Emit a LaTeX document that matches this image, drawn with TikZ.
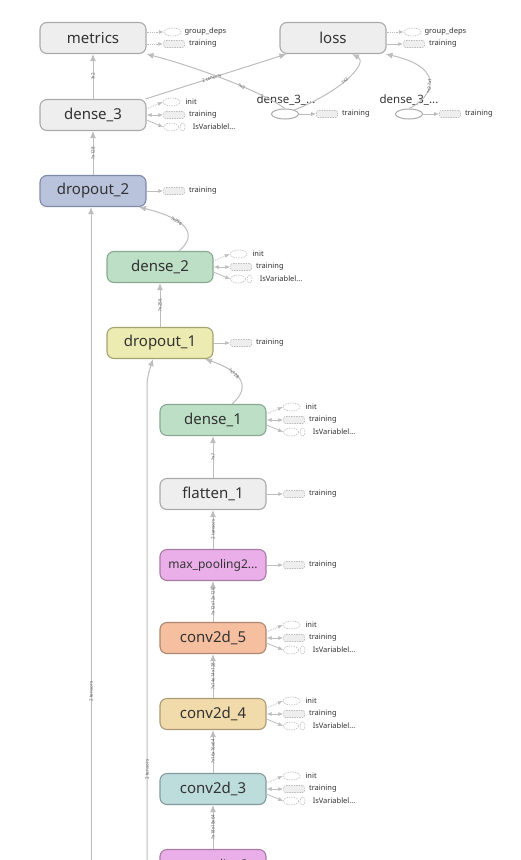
\documentclass[tikz,border=0pt]{standalone}
\usepackage{fontspec}
\setmainfont{Noto Sans}
\usetikzlibrary{arrows.meta,shapes.geometric}
\definecolor{edgec}{HTML}{BDBDBD}
\definecolor{txtc}{HTML}{333333}
\definecolor{elabc}{HTML}{555555}
\definecolor{grayf}{HTML}{EEEEEE}
\definecolor{grayd}{HTML}{AAAAAA}
\definecolor{bluef}{HTML}{B9C3DC}
\definecolor{blued}{HTML}{7E8AA8}
\definecolor{greenf}{HTML}{BDDFC6}
\definecolor{greend}{HTML}{89A892}
\definecolor{yelf}{HTML}{ECEBB1}
\definecolor{yeld}{HTML}{A5A36D}
\definecolor{pinkf}{HTML}{EAAEE8}
\definecolor{pinkd}{HTML}{A87AA6}
\definecolor{salf}{HTML}{F6BFA0}
\definecolor{sald}{HTML}{AD8770}
\definecolor{tanf}{HTML}{F1DBAA}
\definecolor{tand}{HTML}{AA9A77}
\definecolor{tealf}{HTML}{BDDCDC}
\definecolor{teald}{HTML}{859B9B}
\tikzset{
 op/.style={rectangle, rounded corners=7pt, minimum width=106pt, minimum height=31pt,
   line width=1.1pt, font=\fontsize{15}{15}\selectfont, text=txtc, inner sep=0pt},
 gop/.style={op, fill=grayf, draw=grayd},
 bop/.style={op, fill=bluef, draw=blued},
 grop/.style={op, fill=greenf, draw=greend},
 yop/.style={op, fill=yelf, draw=yeld},
 pop/.style={op, fill=pinkf, draw=pinkd, font=\fontsize{12}{12}\selectfont},
 sop/.style={op, fill=salf, draw=sald},
 tanop/.style={op, fill=tanf, draw=tand},
 top/.style={op, fill=tealf, draw=teald},
 edge/.style={draw=edgec, line width=1pt, -{Latex[length=7pt,width=6pt]}},
 elab/.style={font=\fontsize{4.5}{4.5}\selectfont, text=elabc, inner sep=0.3pt},
 sm/.style={font=\fontsize{7.5}{7.5}\selectfont, text=txtc, anchor=west, inner sep=0pt},
 initell/.style={ellipse, draw=edgec, dash pattern=on 1.5pt off 1pt, fill=white,
   minimum width=17pt, minimum height=8pt, inner sep=0pt, line width=0.6pt},
 trrect/.style={rectangle, rounded corners=2pt, draw=edgec, dash pattern=on 1.5pt off 1pt,
   fill=grayf, minimum width=21pt, minimum height=7pt, inner sep=0pt, line width=0.6pt},
 inell/.style={ellipse, draw=grayd, fill=white, minimum width=27pt, minimum height=10pt,
   inner sep=0pt, line width=1pt},
 sarr/.style={draw=edgec, line width=0.8pt, -{Latex[length=5pt,width=4pt]}},
 darr/.style={sarr, densely dotted},
 barr/.style={sarr, {Latex[length=5pt,width=4pt]}-{Latex[length=5pt,width=4pt]}},
}
\newcommand\varann[1]{%
 \node[initell] (#1-i) at ([xshift=25pt,yshift=13pt]#1.east) {};
 \node[sm] at ([xshift=5pt]#1-i.east) {init};
 \node[trrect] (#1-t) at ([xshift=27.5pt]#1.east) {};
 \node[sm] at ([xshift=4pt]#1-t.east) {training};
 \node[initell, minimum width=15pt] (#1-v) at ([xshift=24.5pt,yshift=-12pt]#1.east) {};
 \node[initell, minimum width=5pt, minimum height=8pt] (#1-vv) at ([xshift=36pt,yshift=-12pt]#1.east) {};
 \node[sm] at ([xshift=46pt,yshift=-12pt]#1.east) {IsVariablel...};
 \draw[darr] ([yshift=6pt]#1.east) -- (#1-i.west);
 \draw[barr] (#1.east) -- (#1-t.west);
 \draw[sarr] ([yshift=-5pt]#1.east) -- (#1-v.west);
}
\newcommand\trann[2]{%
 \node[trrect] (#1-t) at ([xshift=27.5pt]#1.east) {};
 \node[sm] at ([xshift=4pt]#1-t.east) {training};
 \draw[#2] (#1.east) -- (#1-t.west);
}
\newcommand\gdann[2]{%
 \node[initell] (#1-g) at ([xshift=26pt,yshift=6pt]#1.east) {};
 \node[sm] at ([xshift=3pt]#1-g.east) {group\_deps};
 \node[trrect] (#1-t) at ([xshift=27.5pt,yshift=-6pt]#1.east) {};
 \node[sm] at ([xshift=4pt]#1-t.east) {training};
 \draw[darr] ([yshift=6pt]#1.east) -- (#1-g.west);
 \draw[#2] ([yshift=-6pt]#1.east) -- (#1-t.west);
}
\begin{document}
\begin{tikzpicture}[x=1pt,y=-1pt]
\useasboundingbox (0,0) rectangle (521,860);
\clip (0,0) rectangle (521,860);
\fill[white] (0,0) rectangle (521,860);

% operation nodes
\node[gop] (metrics) at (93,38) {metrics};
\node[gop] (loss) at (333,38) {loss};
\node[gop] (dense3) at (93,115) {dense\_3};
\node[bop] (dropout2) at (93,191) {dropout\_2};
\node[grop] (dense2) at (160,267) {dense\_2};
\node[yop] (dropout1) at (160,343) {dropout\_1};
\node[grop] (dense1) at (213,420) {dense\_1};
\node[gop] (flatten1) at (213,494) {flatten\_1};
\node[pop] (maxpool) at (213,565) {max\_pooling2...};
\node[sop] (conv5) at (213,638) {conv2d\_5};
\node[tanop] (conv4) at (213,714) {conv2d\_4};
\node[top] (conv3) at (213,789) {conv2d\_3};
\node[pop] (maxpoolb) at (213,865) {max\_pooling2...};

% input ellipses
\node[inell] (ell1) at (285,114) {};
\node[inell] (ell2) at (409,114) {};
\node[font=\fontsize{11.5}{12}\selectfont, text=txtc, inner sep=0pt] (ell1l) at (286,100) {dense\_3\_...};
\node[font=\fontsize{11.5}{12}\selectfont, text=txtc, inner sep=0pt] (ell2l) at (409,100) {dense\_3\_...};

% side annotations
\gdann{metrics}{darr}
\gdann{loss}{sarr}
\varann{dense3}
\trann{dropout2}{sarr}
\varann{dense2}
\trann{dropout1}{sarr}
\varann{dense1}
\trann{flatten1}{sarr}
\trann{maxpool}{sarr}
\varann{conv5}
\varann{conv4}
\varann{conv3}
\trann{maxpoolb}{sarr}
\node[trrect] (ell1-t) at ([xshift=42pt]ell1.center) {};
\node[sm] at ([xshift=4pt]ell1-t.east) {training};
\draw[sarr] (ell1.east) -- (ell1-t.west);
\node[trrect] (ell2-t) at ([xshift=41pt]ell2.center) {};
\node[sm] at ([xshift=4pt]ell2-t.east) {training};
\draw[sarr] (ell2.east) -- (ell2-t.west);

% main edges
\draw[edge] (dense3) -- node[elab, rotate=90] {?x2} (metrics);
\draw[edge] (dropout2) -- node[elab, rotate=90] {?x128} (dense3);
\draw[edge] ([xshift=-1pt]dense3.north east) -- node[elab, sloped, pos=0.47] {2 tensors} ([xshift=7pt]loss.south west);
\draw[edge] (ell1.north) .. controls (262,92) and (200,68) .. node[elab, sloped, pos=0.4] {?x2} (metrics.south east);
\draw[edge] ([xshift=-1pt]ell1.north east) .. controls (345,90) and (368,62) .. node[elab, sloped, pos=0.45] {?x2} ([xshift=19pt]loss.south);
\draw[edge] (ell2.north) .. controls (432,98) and (448,68) .. node[elab, sloped, pos=0.45] {?x2 ?x1} ([xshift=-1pt]loss.south east);
\draw[edge] ([xshift=19pt]dense2.north) .. controls (192,240) and (199,222) .. node[elab, sloped, pos=0.7] {?x256} ([xshift=46pt]dropout2.south);
\draw[edge] (dropout1) -- node[elab, rotate=90] {?x256} (dense2);
\draw[edge] ([xshift=19pt]dense1.north) .. controls (245,393) and (252,375) .. node[elab, sloped, pos=0.7] {?x128} ([xshift=45pt]dropout1.south);
\draw[edge] (flatten1) -- node[elab, rotate=90] {?x?} (dense1);
\draw[edge] (maxpool) -- node[elab, rotate=90] {2 tensors} (flatten1);
\draw[edge] (conv5) -- node[elab, rotate=90] {?x12x12x128} (maxpool);
\draw[edge] (conv4) -- node[elab, rotate=90] {?x14x14x128} (conv5);
\draw[edge] (conv3) -- node[elab, rotate=90] {?x16x16x64} (conv4);
\draw[edge] (maxpoolb) -- node[elab, rotate=90] {?x18x18x64} (conv3);

% long inputs from below
\coordinate (inA) at (91,880);
\coordinate (inB) at (147,880);
\draw[edge] (inA) -- node[elab, rotate=90, pos=0.28] {2 tensors} (inA |- dropout2.south);
\draw[edge] (inB) -- node[elab, rotate=90, pos=0.23] {2 tensors} (147,400) .. controls (147,378) .. ([xshift=-7pt]dropout1.south);
\end{tikzpicture}
\end{document}
